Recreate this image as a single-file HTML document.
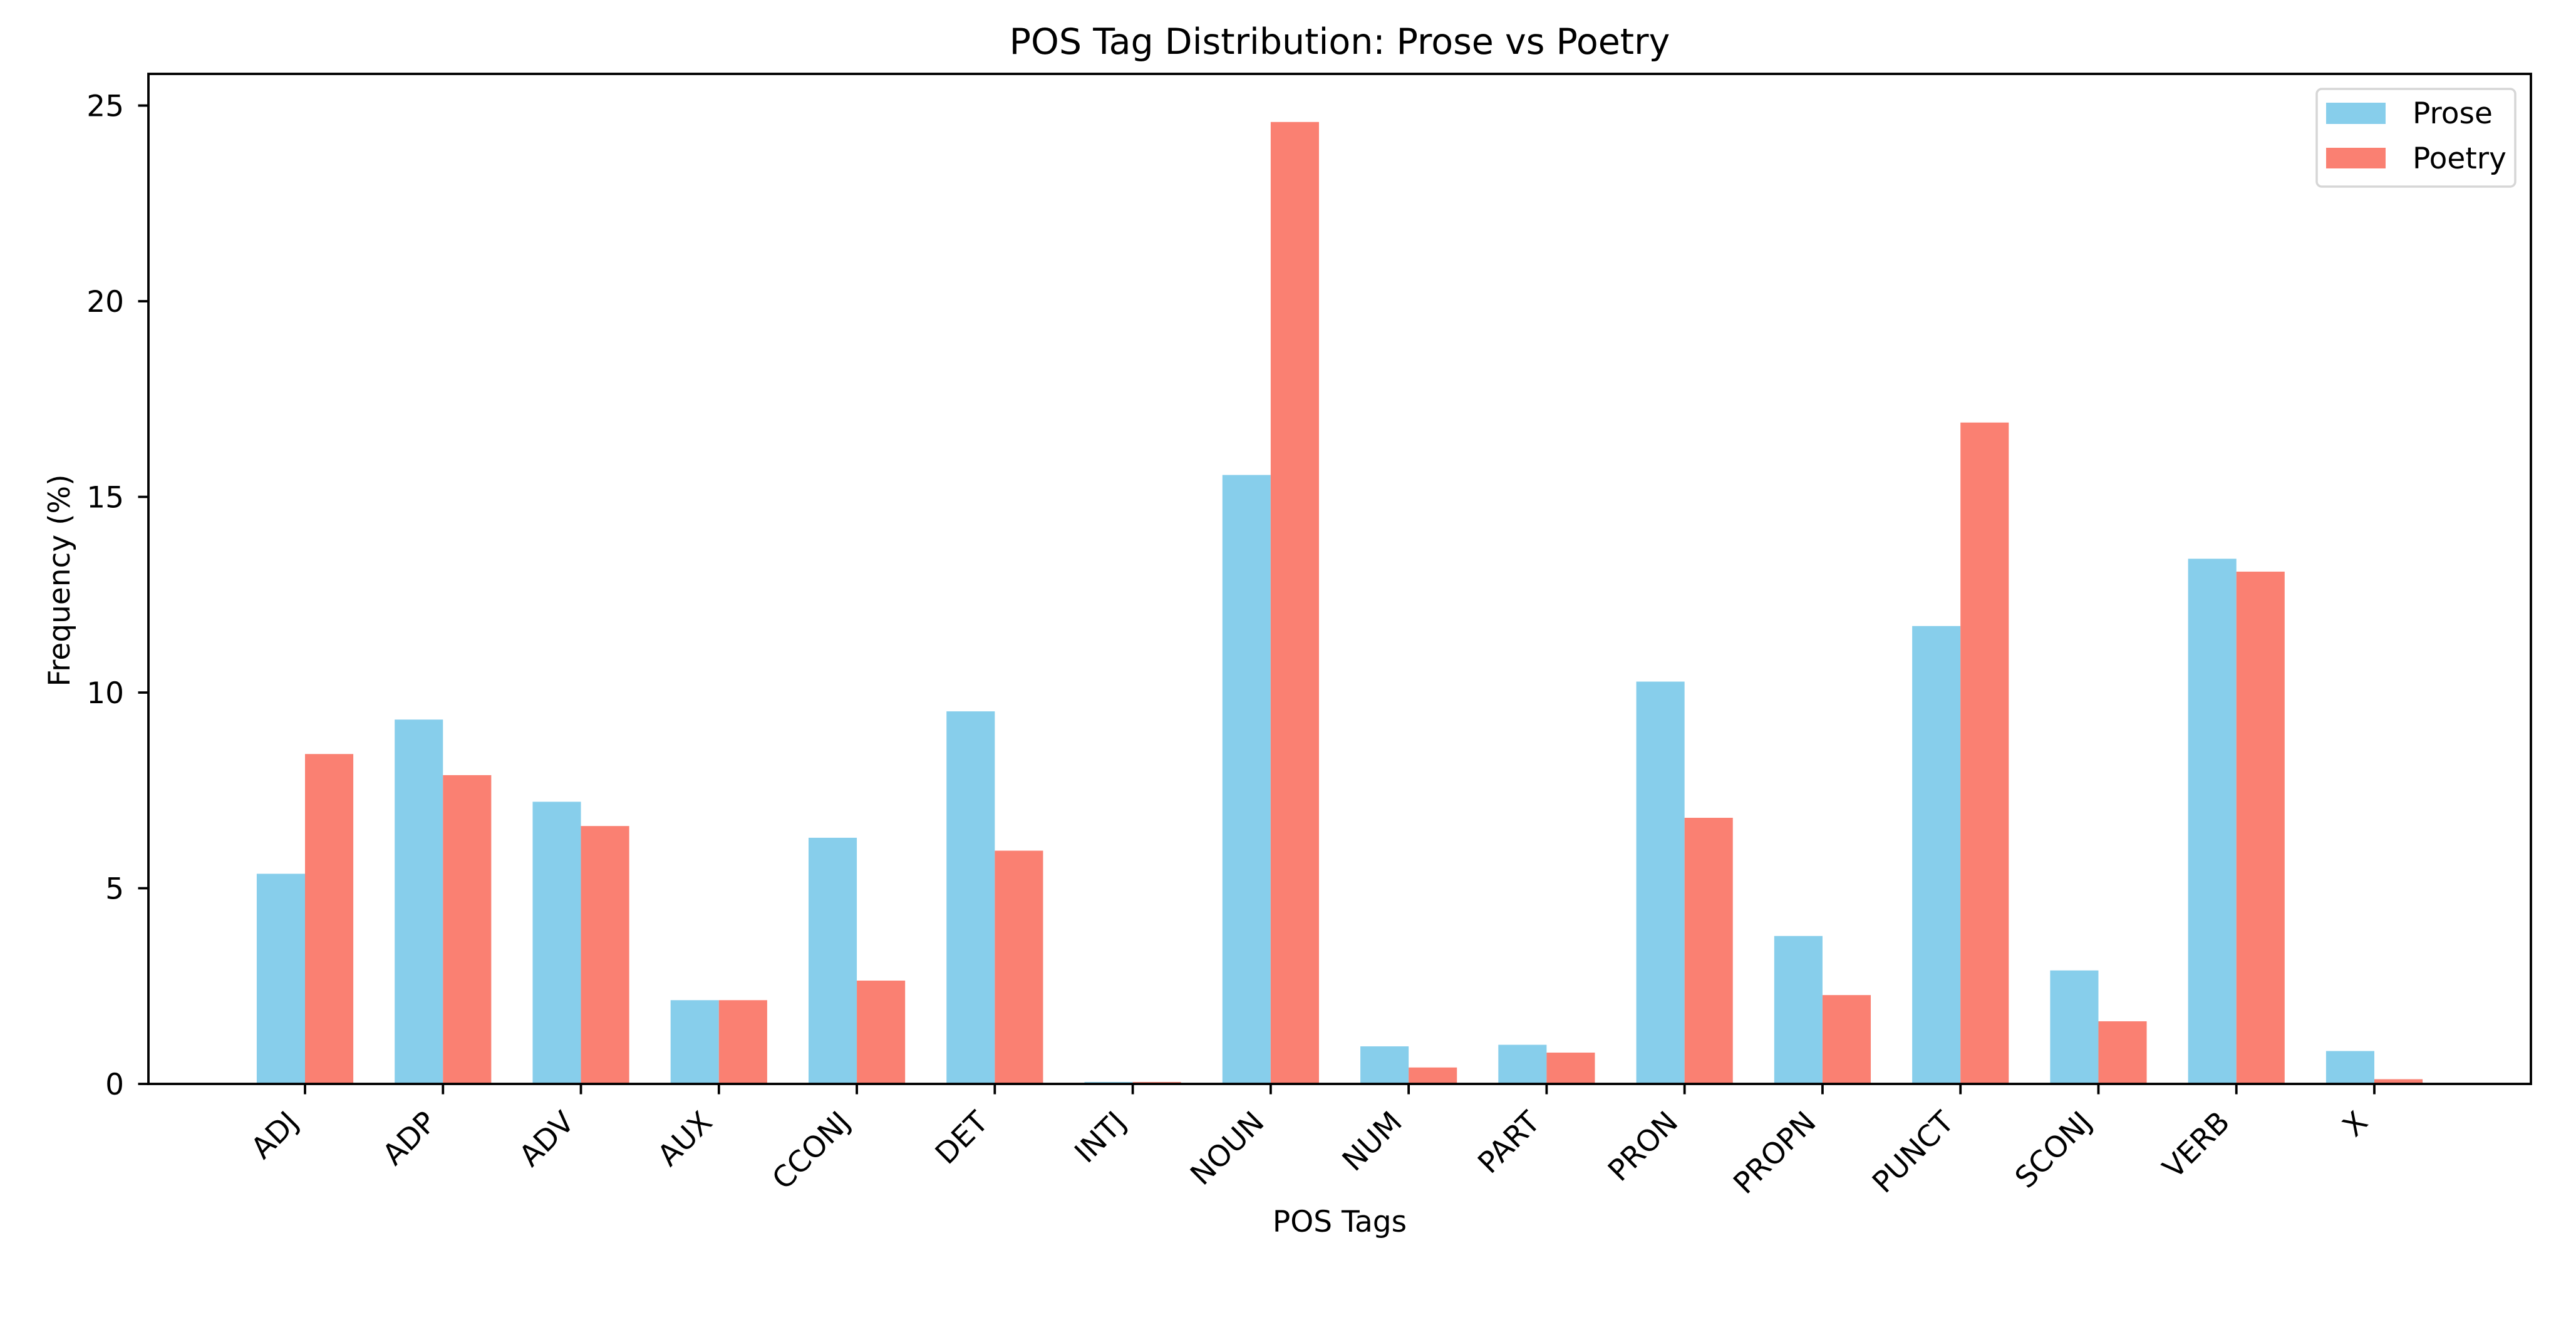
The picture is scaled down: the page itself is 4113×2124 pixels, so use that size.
<!DOCTYPE html>
<html><head><meta charset="utf-8"><style>
html,body{margin:0;padding:0;background:#fff;}
svg{display:block;font-family:"DejaVu Sans","Liberation Sans",sans-serif;}
</style></head><body>
<svg id="chart" width="4113" height="2124" viewBox="0 0 4113 2124" xmlns="http://www.w3.org/2000/svg">
<rect x="0" y="0" width="4113" height="2124" fill="#fff"/>
<text x="2139" y="86" font-size="57" text-anchor="middle" fill="#000">POS Tag Distribution: Prose vs Poetry</text>
<g id="bars"></g>
<g id="xticks"></g>
<g id="yticks"></g>
<rect x="237" y="118" width="3804" height="1613" fill="none" stroke="#000" stroke-width="3.8"/>
<text x="2139" y="1967" font-size="47" text-anchor="middle">POS Tags</text>
<text transform="translate(111,927) rotate(-90)" font-size="47" text-anchor="middle">Frequency (%)</text>
<g>
<rect x="3699" y="142" width="317" height="156" rx="8" fill="#fff" fill-opacity="0.8" stroke="#d6d6d6" stroke-width="3.5"/>
<rect x="3714" y="164" width="95" height="34" fill="#87CEEB"/>
<text x="3852" y="197" font-size="47">Prose</text>
<rect x="3714" y="236" width="95" height="33" fill="#FA8072"/>
<text x="3852" y="269" font-size="47">Poetry</text>
</g>
</svg>
<script>
const categories = ["ADJ","ADP","ADV","AUX","CCONJ","DET","INTJ","NOUN","NUM","PART","PRON","PROPN","PUNCT","SCONJ","VERB","X"];
const proseValues = [5.37,9.31,7.21,2.14,6.29,9.52,0.05,15.56,0.96,1.0,10.28,3.78,11.7,2.9,13.42,0.84];
const poetryValues = [8.43,7.89,6.59,2.14,2.64,5.96,0.05,24.58,0.42,0.8,6.8,2.27,16.9,1.6,13.09,0.12];
const yTickValues = [0,5,10,15,20,25];

const NS = "http://www.w3.org/2000/svg";
const L = 237, R = 4041, T = 118, B = 1731;
const n = categories.length;
const xMin = -0.35 - 0.05*(n - 1 + 0.7), xMax = n - 1 + 0.35 + 0.05*(n - 1 + 0.7);
const allMax = Math.max(...proseValues, ...poetryValues);
const yMax = allMax * 1.05;
function xs(v){ return L + (v - xMin) / (xMax - xMin) * (R - L); }
function ys(v){ return B - v / yMax * (B - T); }
function mk(tag, attrs, parent){ const e = document.createElementNS(NS, tag); for (const k in attrs) e.setAttribute(k, attrs[k]); parent.appendChild(e); return e; }

const barsG = document.getElementById('bars');
const w = 0.35;
categories.forEach((c, i) => {
  const p = mk('rect', {x: xs(i - w), y: ys(proseValues[i]), width: xs(i) - xs(i - w), height: ys(0) - ys(proseValues[i]), fill: '#87CEEB'}, barsG);
  
  
  const q = mk('rect', {x: xs(i), y: ys(poetryValues[i]), width: xs(i + w) - xs(i), height: ys(0) - ys(poetryValues[i]), fill: '#FA8072'}, barsG);
  
  
});

const xg = document.getElementById('xticks');
categories.forEach((c, i) => {
  const x = xs(i);
  const tk = mk('line', {x1: x, y1: B, x2: x, y2: B + 16.5, stroke: '#000', 'stroke-width': 3.8}, xg);
  
  
  const t = mk('text', {transform: 'translate(' + (x - 8) + ',' + (1795) + ') rotate(-45)', 'font-size': 47, 'text-anchor': 'end'}, xg);
  t.textContent = c;
  
  
});

const yg = document.getElementById('yticks');
yTickValues.forEach(v => {
  const y = ys(v);
  const tk = mk('line', {x1: L - 16.5, y1: y, x2: L, y2: y, stroke: '#000', 'stroke-width': 3.8}, yg);
  
  
  const t = mk('text', {x: 198, y: y + 17, 'font-size': 47, 'text-anchor': 'end'}, yg);
  t.textContent = String(v);
  
  
});
</script>
</body></html>
